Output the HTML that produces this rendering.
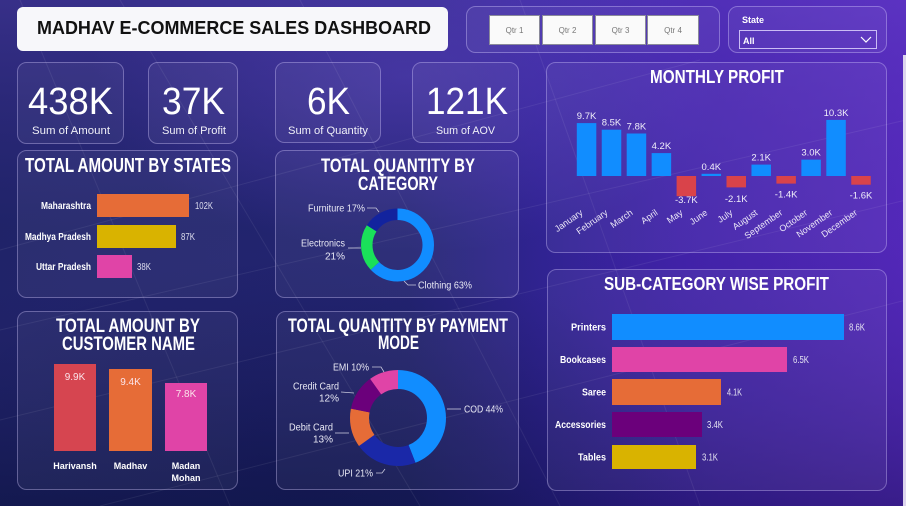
<!DOCTYPE html>
<html><head><meta charset="utf-8"><style>
html,body{margin:0;padding:0;background:#1c2262;}
svg{display:block;font-family:"Liberation Sans",sans-serif;}
</style></head><body>
<svg width="906" height="506" viewBox="0 0 906 506" xmlns="http://www.w3.org/2000/svg">
<defs>
<linearGradient id="bgx" x1="0" y1="0" x2="1" y2="0">
<stop offset="0" stop-color="#1c2262"/>
<stop offset="0.45" stop-color="#1f236c"/>
<stop offset="0.6" stop-color="#2e2290"/>
<stop offset="0.75" stop-color="#4021a8"/>
<stop offset="1" stop-color="#5427ba"/>
</linearGradient>
<linearGradient id="bgy" x1="0" y1="0" x2="0" y2="1">
<stop offset="0" stop-color="#6a48d0" stop-opacity="0.35"/>
<stop offset="0.45" stop-color="#4a30b0" stop-opacity="0.08"/>
<stop offset="1" stop-color="#060a30" stop-opacity="0.35"/>
</linearGradient>
<radialGradient id="glow" cx="0.45" cy="0.15" r="0.35">
<stop offset="0" stop-color="#6b4ad8" stop-opacity="0.35"/>
<stop offset="1" stop-color="#6b4ad8" stop-opacity="0"/>
</radialGradient>
<radialGradient id="dark" cx="0.35" cy="0.95" r="0.45">
<stop offset="0" stop-color="#0a1040" stop-opacity="0.35"/>
<stop offset="1" stop-color="#0a1040" stop-opacity="0"/>
</radialGradient>
</defs>
<rect width="906" height="506" fill="url(#bgx)"/>
<rect width="906" height="506" fill="url(#bgy)"/>
<rect width="906" height="506" fill="url(#glow)"/>
<rect width="906" height="506" fill="url(#dark)"/>
<g stroke="#ffffff" stroke-opacity="0.07" stroke-width="1">
<line x1="0" y1="330" x2="906" y2="120"/>
<line x1="0" y1="420" x2="906" y2="200"/>
<line x1="0" y1="250" x2="700" y2="60"/>
<line x1="100" y1="506" x2="906" y2="300"/>
<line x1="120" y1="0" x2="420" y2="506"/>
<line x1="300" y1="0" x2="560" y2="506"/>
<line x1="520" y1="0" x2="700" y2="506"/>
<line x1="20" y1="0" x2="230" y2="506"/>
</g>
<rect x="903" y="55" width="3" height="451" fill="#ddd6ee"/>

<!-- Title -->
<rect x="17" y="7" width="431" height="44" rx="6" fill="#f7f7fa"/>
<text x="37" y="34" font-size="18.5" font-weight="bold" textLength="394" lengthAdjust="spacingAndGlyphs" fill="#111">MADHAV E-COMMERCE SALES DASHBOARD</text>

<!-- Qtr slicer -->
<rect x="466.5" y="6.5" width="253" height="46" rx="9" fill="#ffffff" fill-opacity="0.05" stroke="#d8ccff" stroke-opacity="0.4"/>
<g stroke="#8a8a9a" fill="#fafafa">
<rect x="489.5" y="15.5" width="50" height="29"/>
<rect x="542.5" y="15.5" width="50" height="29"/>
<rect x="595.5" y="15.5" width="50" height="29"/>
<rect x="647.5" y="15.5" width="51" height="29"/>
</g>
<g font-size="8" fill="#777" text-anchor="middle">
<text x="514.5" y="33">Qtr 1</text>
<text x="567.5" y="33">Qtr 2</text>
<text x="620.5" y="33">Qtr 3</text>
<text x="673" y="33">Qtr 4</text>
</g>

<!-- State slicer -->
<rect x="728.5" y="6.5" width="158" height="46" rx="9" fill="#ffffff" fill-opacity="0.05" stroke="#d8ccff" stroke-opacity="0.4"/>
<text x="742" y="23" font-size="9" font-weight="bold" fill="#fff">State</text>
<rect x="739.5" y="30.5" width="137" height="18" fill="none" stroke="#cbbdf5"/>
<text x="743" y="44" font-size="9" font-weight="bold" fill="#fff">All</text>
<polyline points="861,37 866,42 871,37" fill="none" stroke="#fff" stroke-width="1.2"/>

<!-- Panels -->
<g fill="#ffffff" fill-opacity="0.05" stroke="#d8ccff" stroke-opacity="0.38" stroke-width="1">
<rect x="17.5" y="62.5" width="106" height="81" rx="9"/>
<rect x="148.5" y="62.5" width="89" height="81" rx="9"/>
<rect x="275.5" y="62.5" width="105" height="80" rx="9"/>
<rect x="412.5" y="62.5" width="106" height="80" rx="9"/>
<rect x="546.5" y="62.5" width="340" height="190" rx="9"/>
<rect x="17.5" y="150.5" width="220" height="147" rx="9"/>
<rect x="275.5" y="150.5" width="243" height="147" rx="9"/>
<rect x="17.5" y="311.5" width="220" height="178" rx="9"/>
<rect x="276.5" y="311.5" width="242" height="178" rx="9"/>
<rect x="547.5" y="269.5" width="339" height="221" rx="9"/>
</g>

<!-- KPIs -->
<g fill="#fff" font-size="38">
<text x="28" y="114" textLength="85" lengthAdjust="spacingAndGlyphs">438K</text>
<text x="162" y="114" textLength="63" lengthAdjust="spacingAndGlyphs">37K</text>
<text x="307" y="114" textLength="43" lengthAdjust="spacingAndGlyphs">6K</text>
<text x="426" y="114" textLength="82" lengthAdjust="spacingAndGlyphs">121K</text>
</g>
<g fill="#f0f0f8" font-size="11">
<text x="32" y="134" textLength="78" lengthAdjust="spacingAndGlyphs">Sum of Amount</text>
<text x="162" y="134" textLength="64" lengthAdjust="spacingAndGlyphs">Sum of Profit</text>
<text x="288" y="134" textLength="80" lengthAdjust="spacingAndGlyphs">Sum of Quantity</text>
<text x="436" y="134" textLength="59" lengthAdjust="spacingAndGlyphs">Sum of AOV</text>
</g>

<!-- Panel titles -->
<g fill="#fff" font-weight="bold" font-size="19.5">
<text x="650" y="83" font-size="18" textLength="134" lengthAdjust="spacingAndGlyphs">MONTHLY PROFIT</text>
<text x="25" y="172" font-size="20.5" textLength="206" lengthAdjust="spacingAndGlyphs">TOTAL AMOUNT BY STATES</text>
<text x="321" y="172" textLength="154" lengthAdjust="spacingAndGlyphs">TOTAL QUANTITY BY</text>
<text x="358" y="190" textLength="80" lengthAdjust="spacingAndGlyphs">CATEGORY</text>
<text x="56" y="332" font-size="19" textLength="144" lengthAdjust="spacingAndGlyphs">TOTAL AMOUNT BY</text>
<text x="62" y="350" font-size="19" textLength="133" lengthAdjust="spacingAndGlyphs">CUSTOMER NAME</text>
<text x="288" y="332" font-size="19" textLength="220" lengthAdjust="spacingAndGlyphs">TOTAL QUANTITY BY PAYMENT</text>
<text x="378" y="349" font-size="19" textLength="41" lengthAdjust="spacingAndGlyphs">MODE</text>
<text x="604" y="290" font-size="18.5" textLength="225" lengthAdjust="spacingAndGlyphs">SUB-CATEGORY WISE PROFIT</text>
</g>

<!-- States chart -->
<rect x="97" y="194" width="92" height="23" fill="#E66C37"/>
<rect x="97" y="225" width="79" height="23" fill="#D9B300"/>
<rect x="97" y="255" width="35" height="23" fill="#E044A7"/>
<g fill="#fff" font-size="10" font-weight="bold" text-anchor="end">
<text x="91" y="209" textLength="50" lengthAdjust="spacingAndGlyphs">Maharashtra</text>
<text x="91" y="240" textLength="66" lengthAdjust="spacingAndGlyphs">Madhya Pradesh</text>
<text x="91" y="270" textLength="55" lengthAdjust="spacingAndGlyphs">Uttar Pradesh</text>
</g>
<g fill="#dcdcee" font-size="10">
<text x="195" y="209" textLength="18" lengthAdjust="spacingAndGlyphs">102K</text>
<text x="181" y="240" textLength="14" lengthAdjust="spacingAndGlyphs">87K</text>
<text x="137" y="270" textLength="14" lengthAdjust="spacingAndGlyphs">38K</text>
</g>

<!-- Category donut -->
<g transform="rotate(-90 397.5 245)" fill="none" stroke-width="11.5">
<circle cx="397.5" cy="245" r="30.75" stroke="#118DFF" stroke-dasharray="121.72 193.21" stroke-dashoffset="0"/>
<circle cx="397.5" cy="245" r="30.75" stroke="#1AE05A" stroke-dasharray="40.57 193.21" stroke-dashoffset="-121.72"/>
<circle cx="397.5" cy="245" r="30.75" stroke="#12239E" stroke-dasharray="30.92 193.21" stroke-dashoffset="-162.29"/>
</g>
<g stroke="#c8c8dc" stroke-width="0.8" fill="none">
<polyline points="367,208 376,208 379,212"/>
<polyline points="348,248 361,248"/>
<polyline points="404,281 408,285 416,285"/>
</g>
<g fill="#e8e8f4" font-size="10">
<text x="308" y="211.5" textLength="57" lengthAdjust="spacingAndGlyphs">Furniture 17%</text>
<text x="345" y="246.5" text-anchor="end" textLength="44" lengthAdjust="spacingAndGlyphs">Electronics</text>
<text x="345" y="259.5" text-anchor="end">21%</text>
<text x="418" y="288.5" textLength="54" lengthAdjust="spacingAndGlyphs">Clothing 63%</text>
</g>

<!-- Customer chart -->
<rect x="54" y="364" width="42" height="87" fill="#D64550"/>
<rect x="109" y="369" width="43" height="82" fill="#E66C37"/>
<rect x="165" y="383" width="42" height="68" fill="#E044A7"/>
<g fill="#fbe4ea" font-size="10" text-anchor="middle">
<text x="75" y="380">9.9K</text>
<text x="130.5" y="385">9.4K</text>
<text x="186" y="397">7.8K</text>
</g>
<g fill="#fff" font-size="9" font-weight="bold" text-anchor="middle">
<text x="75" y="469">Harivansh</text>
<text x="130.5" y="469">Madhav</text>
<text x="186" y="469">Madan</text>
<text x="186" y="481">Mohan</text>
</g>

<!-- Payment donut -->
<g transform="rotate(-90 398 418)" fill="none" stroke-width="19">
<circle cx="398" cy="418" r="38.5" stroke="#118DFF" stroke-dasharray="106.44 241.9" stroke-dashoffset="0"/>
<circle cx="398" cy="418" r="38.5" stroke="#1A28A8" stroke-dasharray="50.80 241.9" stroke-dashoffset="-106.44"/>
<circle cx="398" cy="418" r="38.5" stroke="#E66C37" stroke-dasharray="31.45 241.9" stroke-dashoffset="-157.24"/>
<circle cx="398" cy="418" r="38.5" stroke="#6B007B" stroke-dasharray="29.03 241.9" stroke-dashoffset="-188.69"/>
<circle cx="398" cy="418" r="38.5" stroke="#E044A7" stroke-dasharray="24.19 241.9" stroke-dashoffset="-217.72"/>
</g>
<g stroke="#c8c8dc" stroke-width="0.8" fill="none">
<polyline points="372,367 381,367 384,372"/>
<polyline points="341,392 354,393"/>
<polyline points="335,433 349,433"/>
<polyline points="447,409 461,409"/>
<polyline points="376,473 382,473 385,469"/>
</g>
<g fill="#e8e8f4" font-size="10">
<text x="333" y="370.5" textLength="36" lengthAdjust="spacingAndGlyphs">EMI 10%</text>
<text x="339" y="389.5" text-anchor="end" textLength="46" lengthAdjust="spacingAndGlyphs">Credit Card</text>
<text x="339" y="401.5" text-anchor="end">12%</text>
<text x="333" y="430.5" text-anchor="end" textLength="44" lengthAdjust="spacingAndGlyphs">Debit Card</text>
<text x="333" y="442.5" text-anchor="end">13%</text>
<text x="464" y="412.5" textLength="39" lengthAdjust="spacingAndGlyphs">COD 44%</text>
<text x="338" y="476.5" textLength="35" lengthAdjust="spacingAndGlyphs">UPI 21%</text>
</g>

<!-- Monthly profit -->
<g fill="#118DFF">
<rect x="576.8" y="123.1" width="19.5" height="52.9"/>
<rect x="601.75" y="129.7" width="19.5" height="46.3"/>
<rect x="626.7" y="133.5" width="19.5" height="42.5"/>
<rect x="651.65" y="153.1" width="19.5" height="22.9"/>
<rect x="701.55" y="173.8" width="19.5" height="2.2"/>
<rect x="751.45" y="164.6" width="19.5" height="11.4"/>
<rect x="801.35" y="159.65" width="19.5" height="16.35"/>
<rect x="826.3" y="119.9" width="19.5" height="56.1"/>
</g>
<g fill="#D9434A">
<rect x="676.6" y="176" width="19.5" height="20.2"/>
<rect x="726.5" y="176" width="19.5" height="11.4"/>
<rect x="776.4" y="176" width="19.5" height="7.6"/>
<rect x="851.25" y="176" width="19.5" height="8.7"/>
</g>
<g fill="#f0eefa" font-size="9.5" text-anchor="middle">
<text x="586.55" y="119">9.7K</text>
<text x="611.5" y="125.7">8.5K</text>
<text x="636.45" y="129.5">7.8K</text>
<text x="661.4" y="149">4.2K</text>
<text x="686.35" y="203">-3.7K</text>
<text x="711.3" y="169.8">0.4K</text>
<text x="736.25" y="202">-2.1K</text>
<text x="761.2" y="160.6">2.1K</text>
<text x="786.15" y="197.6">-1.4K</text>
<text x="811.1" y="155.6">3.0K</text>
<text x="836.05" y="116">10.3K</text>
<text x="861" y="198.7">-1.6K</text>
</g>
<g fill="#ece8f8" font-size="9" text-anchor="end">
<text transform="translate(583.5 214) rotate(-35)">January</text>
<text transform="translate(608.5 214) rotate(-35)">February</text>
<text transform="translate(633.5 214) rotate(-35)">March</text>
<text transform="translate(658.4 214) rotate(-35)">April</text>
<text transform="translate(683.4 214) rotate(-35)">May</text>
<text transform="translate(708.3 214) rotate(-35)">June</text>
<text transform="translate(733.3 214) rotate(-35)">July</text>
<text transform="translate(758.2 214) rotate(-35)">August</text>
<text transform="translate(783.2 214) rotate(-35)">September</text>
<text transform="translate(808.1 214) rotate(-35)">October</text>
<text transform="translate(833.1 214) rotate(-35)">November</text>
<text transform="translate(858 214) rotate(-35)">December</text>
</g>

<!-- Sub-category -->
<rect x="612" y="314" width="232" height="26" fill="#118DFF"/>
<rect x="612" y="347" width="175" height="25" fill="#E044A7"/>
<rect x="612" y="379" width="109" height="26" fill="#E66C37"/>
<rect x="612" y="412" width="90" height="25" fill="#6B007B"/>
<rect x="612" y="445" width="84" height="24" fill="#D9B300"/>
<g fill="#fff" font-size="10" font-weight="bold" text-anchor="end">
<text x="606" y="330.5" textLength="35" lengthAdjust="spacingAndGlyphs">Printers</text>
<text x="606" y="363" textLength="46" lengthAdjust="spacingAndGlyphs">Bookcases</text>
<text x="606" y="395.5" textLength="24" lengthAdjust="spacingAndGlyphs">Saree</text>
<text x="606" y="428" textLength="51" lengthAdjust="spacingAndGlyphs">Accessories</text>
<text x="606" y="460.5" textLength="28" lengthAdjust="spacingAndGlyphs">Tables</text>
</g>
<g fill="#e4e2f2" font-size="10">
<text x="849" y="330.5" textLength="16" lengthAdjust="spacingAndGlyphs">8.6K</text>
<text x="793" y="363" textLength="16" lengthAdjust="spacingAndGlyphs">6.5K</text>
<text x="727" y="395.5" textLength="15" lengthAdjust="spacingAndGlyphs">4.1K</text>
<text x="707" y="428" textLength="16" lengthAdjust="spacingAndGlyphs">3.4K</text>
<text x="702" y="460.5" textLength="16" lengthAdjust="spacingAndGlyphs">3.1K</text>
</g>
</svg>
</body></html>
